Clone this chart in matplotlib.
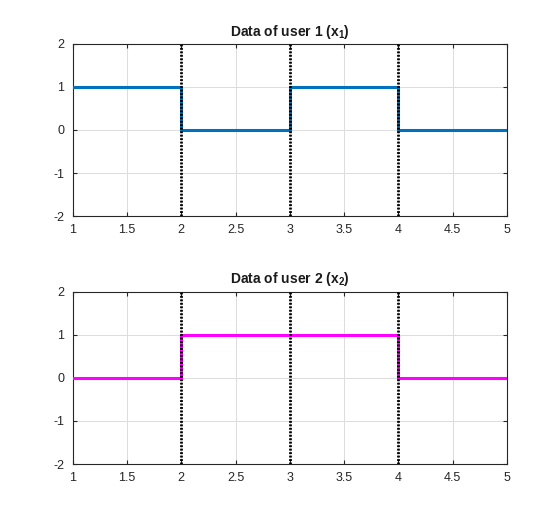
import numpy as np
import matplotlib
matplotlib.use('Agg')
import matplotlib.pyplot as plt

plt.rcParams['font.family'] = ['Liberation Sans', 'DejaVu Sans']
plt.rcParams['axes.unicode_minus'] = False
plt.rcParams['mathtext.fontset'] = 'custom'
plt.rcParams['mathtext.rm'] = 'Liberation Sans:bold'
plt.rcParams['mathtext.it'] = 'Liberation Sans:bold'
plt.rcParams['mathtext.bf'] = 'Liberation Sans:bold'

# bit boundaries and per-bit values
edges = [1, 2, 3, 4, 5]
user1 = [1, 0, 1, 0]
user2 = [0, 1, 1, 0]
bounds = [2, 3, 4]
titles = [r'Data of user 1 (x$_\mathrm{1}$)', r'Data of user 2 (x$_\mathrm{2}$)']
colors = ['#0072BD', '#FF00FF']

fig = plt.figure(figsize=(5.6, 5.22), dpi=100)
axes = [fig.add_axes([0.130, 0.586, 0.775, 0.330]),
        fig.add_axes([0.130, 0.111, 0.775, 0.330])]

for ax, data, title, col in zip(axes, [user1, user2], titles, colors):
    ax.step(edges, data + [data[-1]], where='post', color=col, lw=2.2, zorder=3)
    for b in bounds:
        ax.plot([b, b], [-2, 2], color='k', lw=2.0, ls=(0, (0.7, 0.55)), zorder=4)
    ax.set_xlim(1, 5)
    ax.set_ylim(-2, 2)
    ax.set_xticks(np.arange(1, 5.01, 0.5))
    ax.set_xticklabels(['1', '1.5', '2', '2.5', '3', '3.5', '4', '4.5', '5'])
    ax.set_yticks([-2, -1, 0, 1, 2])
    ax.grid(True, color='#dcdcdc', lw=0.7)
    ax.set_axisbelow(True)
    ax.tick_params(direction='in', top=True, right=True, labelsize=9, length=3,
                   pad=6, colors='#262626', labelcolor='#262626')
    for s in ax.spines.values():
        s.set_color('#262626')
        s.set_linewidth(0.8)
    ax.set_title(title, fontsize=10, fontweight='bold', color='#1a1a1a', pad=6)

fig.savefig('out.png', dpi=100, facecolor='white')
